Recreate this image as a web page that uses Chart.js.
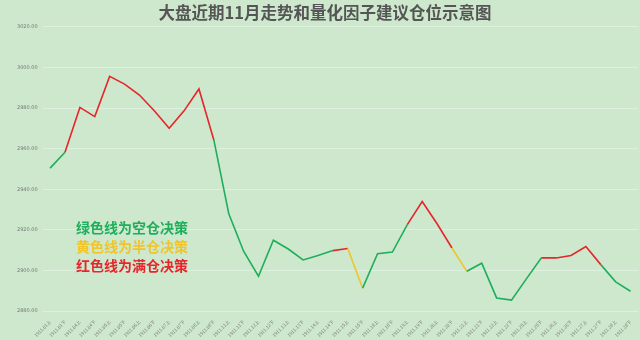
<!DOCTYPE html>
<html lang="zh">
<head>
    <meta charset="UTF-8">
    <title>大盘近期11月走势和量化因子建议仓位示意图</title>
    <script src="https://cdn.jsdelivr.net/npm/chart.js"></script>
    <style>
        body {
            margin: 0;
            padding: 0;
            background-color: #cde8cd;
        }
        #wrap {
            width: 640px;
            height: 340px;
        }
    </style>
</head>
<body>
    <div id="wrap">
        <canvas id="trendChart" width="640" height="340"></canvas>
    </div>

    <script>
        // half-day sessions, Nov 2019
        const labels = [
            '1911.01上', '1911.01下', '1911.04上', '1911.04下', '1911.05上', '1911.05下',
            '1911.06上', '1911.06下', '1911.07上', '1911.07下', '1911.08上', '1911.08下',
            '1911.11上', '1911.11下', '1911.12上', '1911.12下', '1911.13上', '1911.13下',
            '1911.14上', '1911.14下', '1911.15上', '1911.15下', '1911.18上', '1911.18下',
            '1911.19上', '1911.19下', '1911.20上', '1911.20下', '1911.21上', '1911.21下',
            '1911.22上', '1911.22下', '1911.25上', '1911.25下', '1911.26上', '1911.26下',
            '1911.27上', '1911.27下', '1911.28上', '1911.28下'
        ];

        const closes = [
            2950.4, 2958.2, 2980.3, 2975.8, 2995.6, 2991.8, 2986.4, 2978.7, 2970.0, 2978.6,
            2989.4, 2964.3, 2928.1, 2909.5, 2897.2, 2914.9, 2910.6, 2905.2, 2907.4, 2909.8,
            2910.8, 2891.3, 2908.3, 2909.1, 2922.6, 2934.0, 2923.0, 2911.1, 2899.6, 2903.6,
            2886.5, 2885.4, 2895.9, 2906.2, 2906.2, 2907.4, 2911.8, 2902.9, 2894.4, 2889.8
        ];

        // suggested position for each segment: 0 = empty, 0.5 = half, 1 = full
        const positions = [
            0, 1, 1, 1, 1, 1, 1, 1, 1, 1,
            1, 0, 0, 0, 0, 0, 0, 0, 0, 1,
            0.5, 0, 0, 0, 1, 1, 1, 0.5, 0, 0,
            0, 0, 0, 1, 1, 1, 1, 0, 0
        ];

        const yTicks = [2880, 2900, 2920, 2940, 2960, 2980, 3000, 3020];

        const GREEN = '#1fae5b';
        const YELLOW = '#f0c52a';
        const RED = '#e5262b';

        function segColor(ctx) {
            const p = positions[ctx.p0DataIndex];
            if (p === 1) return RED;
            if (p === 0.5) return YELLOW;
            return GREEN;
        }

        const notes = [
            { text: '绿色线为空仓决策', color: GREEN },
            { text: '黄色线为半仓决策', color: YELLOW },
            { text: '红色线为满仓决策', color: RED }
        ];

        const bgPlugin = {
            id: 'bg',
            beforeDraw(chart) {
                const c = chart.ctx;
                c.save();
                c.fillStyle = '#cde8cd';
                c.fillRect(0, 0, chart.width, chart.height);
                c.restore();
            }
        };

        const notePlugin = {
            id: 'notes',
            afterDraw(chart) {
                const c = chart.ctx;
                c.save();
                c.font = 'bold 14px "Noto Sans CJK SC", sans-serif';
                c.textBaseline = 'middle';
                notes.forEach((n, i) => {
                    c.fillStyle = n.color;
                    c.fillText(n.text, 76, 228 + i * 19);
                });
                c.restore();
            }
        };

        new Chart(document.getElementById('trendChart'), {
            type: 'line',
            data: {
                labels: labels,
                datasets: [{
                    data: closes,
                    borderWidth: 1.6,
                    pointRadius: 0,
                    tension: 0,
                    borderColor: GREEN,
                    segment: { borderColor: segColor }
                }]
            },
            options: {
                responsive: false,
                animation: false,
                layout: { padding: { left: 12, right: 2, top: 0, bottom: 2 } },
                plugins: {
                    legend: { display: false },
                    tooltip: { enabled: false },
                    title: {
                        display: true,
                        text: '大盘近期11月走势和量化因子建议仓位示意图',
                        color: '#555555',
                        font: { size: 16.5, weight: 'bold', family: '"Noto Sans CJK SC", sans-serif' },
                        padding: { top: 3, bottom: 4 }
                    }
                },
                scales: {
                    x: {
                        offset: true,
                        grid: { display: false },
                        border: { display: false },
                        ticks: {
                            color: '#777777',
                            font: { size: 4.6, family: '"Noto Sans CJK SC", sans-serif' },
                            minRotation: 45,
                            maxRotation: 45,
                            autoSkip: false,
                            padding: 0
                        }
                    },
                    y: {
                        min: yTicks[0],
                        max: yTicks[yTicks.length - 1],
                        afterBuildTicks(axis) {
                            axis.ticks = yTicks.map(v => ({ value: v }));
                        },
                        grid: { color: 'rgba(255,255,255,0.35)', drawTicks: false },
                        border: { display: false },
                        ticks: {
                            color: '#777777',
                            font: { size: 5, family: 'DejaVu Sans, sans-serif' },
                            padding: 5,
                            callback: v => v.toFixed(2)
                        }
                    }
                }
            },
            plugins: [bgPlugin, notePlugin]
        });
    </script>
</body>
</html>
